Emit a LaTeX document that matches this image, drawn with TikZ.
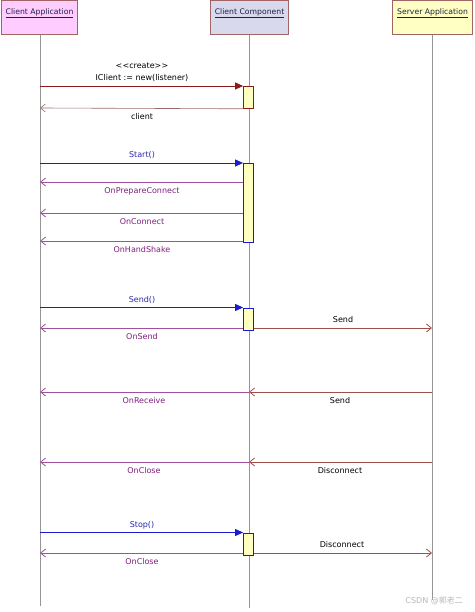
\documentclass[tikz,border=0pt]{standalone}
\usepackage{fontspec}
\setmainfont{DejaVu Sans}
\newfontfamily\cjkfont{Noto Sans CJK SC}
\usetikzlibrary{arrows.meta}
\definecolor{hdrborder}{HTML}{A06464}
\definecolor{pinkfill}{HTML}{FFCCFF}
\definecolor{compfill}{HTML}{D9D9EE}
\definecolor{servfill}{HTML}{FFFFC4}
\definecolor{actfill}{HTML}{FFFFC0}
\definecolor{hdrtext}{HTML}{202040}
\definecolor{callblue}{HTML}{1A1AD0}
\definecolor{calltext}{HTML}{2A2AB0}
\definecolor{createred}{HTML}{8B1A1A}
\definecolor{retpurple}{HTML}{A050A0}
\definecolor{rettext}{HTML}{7F207F}
\definecolor{servline}{HTML}{A0504A}
\definecolor{clientret}{HTML}{A06A6A}
\definecolor{lifegray}{HTML}{959595}
\definecolor{wmgray}{HTML}{B8B8B8}
\tikzset{
  hdrbox/.style={draw=hdrborder, line width=1.1pt, anchor=north west, inner xsep=0pt, inner ysep=0pt,
    text height=14pt, text depth=20pt, font=\fontsize{7.7}{9}\selectfont, text=hdrtext},
  lifeline/.style={draw=lifegray, line width=0.7pt},
  actbox/.style={draw=callblue, fill=actfill, line width=0.8pt, minimum width=10pt, inner sep=0pt, anchor=north},
  callmsg/.style={draw=callblue, line width=0.8pt, -{Triangle[length=8pt,width=7pt,fill=callblue]}},
  createmsg/.style={draw=createred, line width=0.8pt, -{Triangle[length=8pt,width=7pt,fill=createred]}},
  retmsg/.style={draw=retpurple, line width=0.8pt, -{Straight Barb[length=5pt,width=8pt,line width=0.8pt]}},
  clientretmsg/.style={draw=clientret, line width=0.6pt, -{Straight Barb[length=5pt,width=8pt,line width=0.6pt]}},
  servmsg/.style={draw=servline, line width=0.8pt, -{Straight Barb[length=5pt,width=8pt,line width=0.8pt]}},
  lbl/.style={font=\fontsize{8}{10}\selectfont, inner sep=0pt},
  calllbl/.style={lbl, text=calltext},
  retlbl/.style={lbl, text=rettext},
  blacklbl/.style={lbl, text=black},
}
\begin{document}
\begin{tikzpicture}[x=1pt,y=-1pt]
\useasboundingbox (0,0) rectangle (474,612);
\fill[white] (0,0) rectangle (474,612);

% headers
\node[hdrbox, fill=pinkfill, minimum width=76pt] (ca) at (1,0) {\underline{Client Application}};
\node[hdrbox, fill=compfill, minimum width=78pt] (cc) at (210,0) {\underline{Client Component}};
\node[hdrbox, fill=servfill, minimum width=80pt] (sa) at (392,0) {\underline{Server Application}};

% lifeline ends
\coordinate (caend) at (40,606);
\coordinate (ccend) at (249,608);
\coordinate (saend) at (432,600);
\draw[lifeline] (ca.south -| caend) -- (caend);
\draw[lifeline] (cc.south -| ccend) -- (ccend);
\draw[lifeline] (sa.south -| saend) -- (saend);

% activation boxes
\node[actbox, draw=createred, minimum height=22pt] (act1) at (248.5,86) {};
\node[actbox, minimum height=79pt] (act2) at (248.5,163) {};
\node[actbox, minimum height=22pt] (act3) at (248.5,307.5) {};
\node[actbox, minimum height=22pt] (act4) at (248.5,532.5) {};

% points on lifelines
\coordinate (a1) at (40,86);
\coordinate (a2) at (40,108);
\coordinate (a3) at (40,163);
\coordinate (a4) at (40,182);
\coordinate (a5) at (40,213);
\coordinate (a6) at (40,241);
\coordinate (a7) at (40,307.5);
\coordinate (a8) at (40,328);
\coordinate (a9) at (40,392);
\coordinate (a10) at (40,462);
\coordinate (a11) at (40,532.5);
\coordinate (a12) at (40,553);
\coordinate (c9) at (249,392);
\coordinate (c10) at (249,462);
\coordinate (s8) at (432,328);
\coordinate (s9) at (432,392);
\coordinate (s10) at (432,462);
\coordinate (s12) at (432,553);

% create
\draw[createmsg] (a1) -- (act1.north west);
\node[blacklbl] (l1a) at (142,66) {<\kern0.3pt<create>\kern0.3pt>};
\node[blacklbl] (l1b) at (142,77.5) {IClient := new(listener)};
\draw[clientretmsg] (act1.south west) -- (a2);
\node[blacklbl] (l2) at (142,117) {client};

% start
\draw[callmsg] (a3) -- (act2.north west);
\node[calllbl] (l3) at (142,155) {Start()};
\draw[retmsg] (act2.west |- a4) -- (a4);
\node[retlbl] (l4) at (142,191) {OnPrepareConnect};
\draw[retmsg] (act2.west |- a5) -- (a5);
\node[retlbl] (l5) at (142,222) {OnConnect};
\draw[retmsg] (act2.west |- a6) -- (a6);
\node[retlbl] (l6) at (142,250) {OnHandShake};

% send
\draw[callmsg] (a7) -- (act3.north west);
\node[calllbl] (l7) at (142,300) {Send()};
\draw[retmsg] (act3.west |- a8) -- (a8);
\node[retlbl] (l8) at (142,337) {OnSend};
\draw[servmsg] (act3.east |- s8) -- (s8);
\node[blacklbl] (l8s) at (343,320) {Send};

% receive
\draw[servmsg] (s9) -- (c9);
\node[blacklbl] (l9s) at (340,401) {Send};
\draw[retmsg] (c9) -- (a9);
\node[retlbl] (l9) at (144,401) {OnReceive};

% close from server
\draw[servmsg] (s10) -- (c10);
\node[blacklbl] (l10s) at (340,471) {Disconnect};
\draw[retmsg] (c10) -- (a10);
\node[retlbl] (l10) at (144,471) {OnClose};

% stop
\draw[callmsg] (a11) -- (act4.north west);
\node[calllbl] (l11) at (142,525) {Stop()};
\draw[retmsg] (act4.west |- a12) -- (a12);
\node[retlbl] (l12) at (142,562) {OnClose};
\draw[servmsg] (act4.east |- s12) -- (s12);
\node[blacklbl] (l12s) at (342,545) {Disconnect};

% watermark
\node[font=\fontsize{8}{10}\selectfont, text=wmgray, inner sep=0pt, anchor=east] (wm) at (463,601) {CSDN @{\cjkfont 郭老二}};
\end{tikzpicture}
\end{document}
